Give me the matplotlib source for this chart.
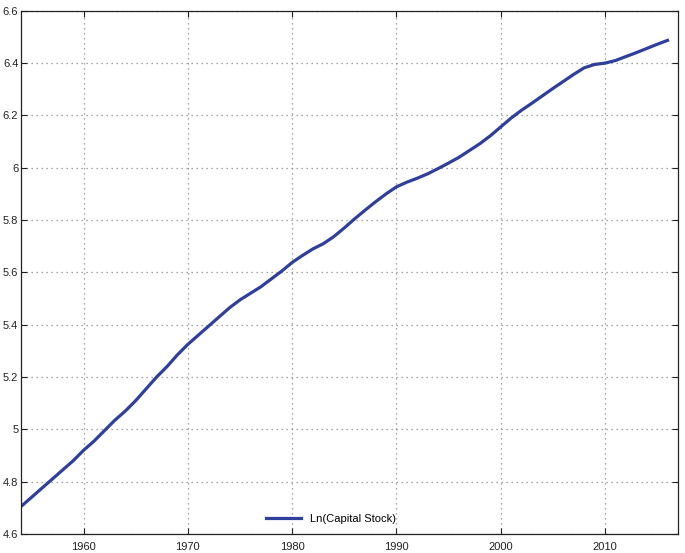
import matplotlib
matplotlib.use("Agg")
import matplotlib.pyplot as plt
from matplotlib.ticker import FuncFormatter
import numpy as np

# years and log capital stock
years = np.arange(1954, 2017)
ln_capital = [
    4.705, 4.740, 4.775, 4.810, 4.845, 4.880, 4.920, 4.955, 4.995, 5.035,
    5.070, 5.110, 5.155, 5.200, 5.240, 5.285, 5.325, 5.360, 5.395, 5.430,
    5.465, 5.495, 5.520, 5.545, 5.575, 5.605, 5.638, 5.665, 5.690, 5.710,
    5.737, 5.770, 5.805, 5.838, 5.870, 5.900, 5.927, 5.945, 5.960, 5.977,
    5.997, 6.018, 6.040, 6.066, 6.092, 6.122, 6.156, 6.190, 6.220, 6.247,
    6.275, 6.303, 6.330, 6.357, 6.382, 6.395, 6.400, 6.410, 6.425, 6.440,
    6.456, 6.472, 6.487,
]
x_ticks = [1960, 1970, 1980, 1990, 2000, 2010]
y_ticks = [4.6, 4.8, 5.0, 5.2, 5.4, 5.6, 5.8, 6.0, 6.2, 6.4, 6.6]

plt.rcParams['font.family'] = ['Liberation Sans', 'DejaVu Sans']

fig = plt.figure(figsize=(6.85, 5.53), dpi=100)
ax = fig.add_axes([0.0307, 0.0344, 0.959, 0.946])

ax.plot(years, ln_capital, color='#2f3f9e', linewidth=2.3,
        label='Ln(Capital Stock)')

ax.set_xlim(1954, 2017)
ax.set_ylim(4.6, 6.6)
ax.set_xticks(x_ticks)
ax.set_yticks(y_ticks)
ax.yaxis.set_major_formatter(FuncFormatter(lambda v, p: '%g' % round(v, 2)))

ax.grid(True, linestyle=(0, (1, 3)), color='#8a8a8a', linewidth=0.9)
ax.tick_params(direction='in', length=4, width=0.8, top=True, right=True,
               labelsize=8, colors='#222222')
ax.tick_params(axis='y', pad=2)
ax.tick_params(axis='x', pad=6)
for s in ax.spines.values():
    s.set_linewidth(0.9)
    s.set_color('#222222')

ax.legend(loc='lower center', bbox_to_anchor=(0.472, 0.0), frameon=False,
          fontsize=8, handlelength=3.2)

fig.savefig('out.png', dpi=100)
